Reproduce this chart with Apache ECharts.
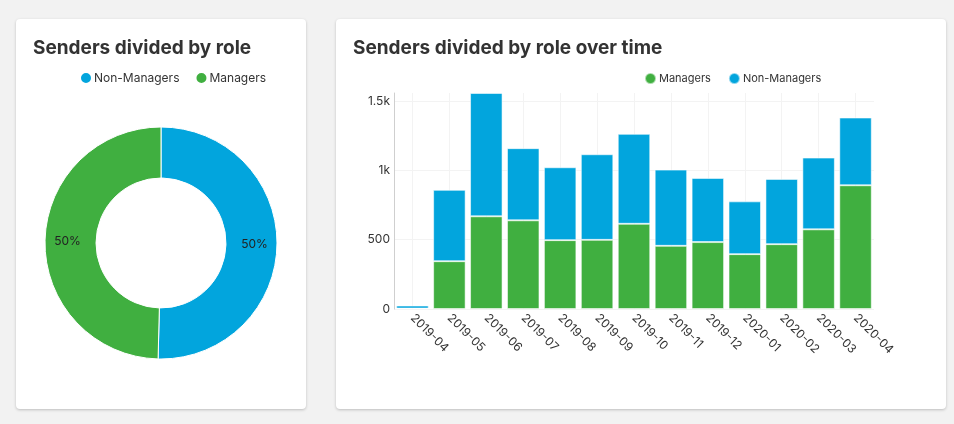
<!DOCTYPE html>
<html>
<head>
<meta charset="utf-8">
<script src="https://cdn.jsdelivr.net/npm/echarts@6/dist/echarts.min.js"></script>
<style>
  html, body { margin: 0; padding: 0; background: #f2f2f2; width: 954px; height: 424px; overflow: hidden; }
  .card { position: absolute; background: #fff; border-radius: 4px; box-shadow: 0 1px 3px rgba(0,0,0,0.22); }
  #c1 { left: 16px; top: 19px; width: 290px; height: 390px; }
  #c2 { left: 336px; top: 19px; width: 610px; height: 390px; }
</style>
</head>
<body>
<div class="card" id="c1"></div>
<div class="card" id="c2"></div>
<script>
// ---- data ----
const pieNames = ['Non-Managers', 'Managers'];
const pieValues = [50.4, 49.6];
const months = ['2019-04','2019-05','2019-06','2019-07','2019-08','2019-09','2019-10','2019-11','2019-12','2020-01','2020-02','2020-03','2020-04'];
const managers = [3, 345, 669, 640, 497, 499, 615, 456, 483, 396, 468, 575, 893];
const nonManagers = [22, 515, 890, 521, 526, 618, 649, 550, 463, 381, 471, 518, 489];
const yTicks = [0, 500, 1000, 1500];

const BLUE = '#02a5dd';
const GREEN = '#40af40';
const FONT = 'Inter, "Noto Sans", sans-serif';
const titleStyle = { fontFamily: FONT, fontSize: 19, fontWeight: 'bold', color: '#333' };

// ---- pie ----
const pie = echarts.init(document.getElementById('c1'), null, { renderer: 'canvas' });
pie.setOption({
  animation: false,
  title: { text: 'Senders divided by role', left: 12, top: 15, textStyle: titleStyle },
  color: [BLUE, GREEN],
  legend: {
    data: pieNames, left: 58, top: 47, icon: 'circle', itemWidth: 12, itemHeight: 12, itemGap: 15,
    textStyle: { fontFamily: FONT, fontSize: 12, color: '#333', padding: [0, 0, 0, -3] }
  },
  series: [{
    type: 'pie',
    center: [145, 224],
    radius: [65, 116],
    startAngle: 90,
    itemStyle: { borderColor: '#fff', borderWidth: 1 },
    label: {
      position: 'inside', formatter: p => Math.round(p.percent) + '%',
      fontFamily: FONT, fontSize: 12, color: '#222'
    },
    labelLine: { show: false },
    data: pieNames.map((n, i) => ({ name: n, value: pieValues[i] }))
  }]
});

// ---- bars ----
const totals = managers.map((m, i) => m + nonManagers[i]);
const yMax = Math.max(...totals);
const bar = echarts.init(document.getElementById('c2'), null, { renderer: 'canvas' });
const barBorder = { borderColor: 'rgba(255,255,255,0.55)', borderWidth: 1 };
bar.setOption({
  animation: false,
  title: { text: 'Senders divided by role over time', left: 12, top: 15, textStyle: titleStyle },
  legend: {
    data: ['Managers', 'Non-Managers'], left: 303, top: 48, icon: 'circle', itemWidth: 11, itemHeight: 11, itemGap: 17,
    textStyle: { fontFamily: FONT, fontSize: 11, color: '#333', padding: [0, 0, 0, -2] }
  },
  grid: { left: 58, right: 72, top: 74, bottom: 100 },
  xAxis: {
    type: 'category', data: months,
    axisLine: { show: false }, axisTick: { show: false },
    axisLabel: { rotate: -45, fontFamily: FONT, fontSize: 12, color: '#333', margin: 7, interval: 0 },
    splitLine: { show: true, alignWithLabel: true, lineStyle: { color: '#f3f3f3' } }
  },
  yAxis: {
    type: 'value', min: 0, max: yMax, interval: 500,
    axisLine: { show: true, lineStyle: { color: '#cfcfcf' } }, axisTick: { show: false },
    axisLabel: {
      showMaxLabel: false, fontFamily: FONT, fontSize: 12, color: '#333', margin: 4,
      formatter: v => yTicks.indexOf(v) < 0 ? '' : (v >= 1000 ? (v / 1000) + 'k' : String(v))
    },
    splitLine: { lineStyle: { color: ['#f3f3f3', '#f3f3f3', '#f3f3f3', '#f3f3f3', 'rgba(0,0,0,0)'] } }
  },
  series: [
    { name: 'Managers', type: 'bar', stack: 'role', data: managers, barCategoryGap: '12%',
      itemStyle: Object.assign({ color: GREEN }, barBorder) },
    { name: 'Non-Managers', type: 'bar', stack: 'role', data: nonManagers, barCategoryGap: '12%',
      itemStyle: Object.assign({ color: BLUE }, barBorder) }
  ]
});
</script>
</body>
</html>
